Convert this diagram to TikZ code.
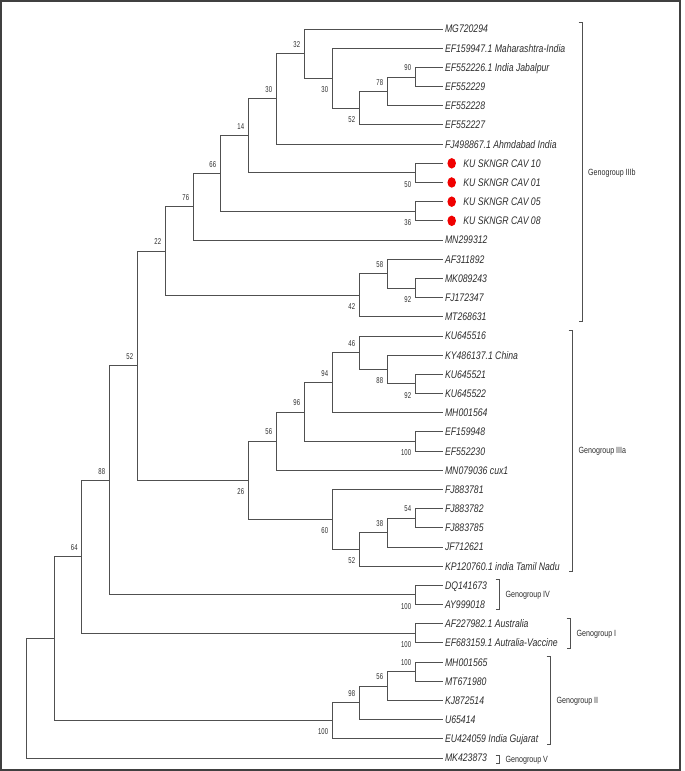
\documentclass[tikz,border=0pt]{standalone}
\usepackage{fontspec}
\usepackage{xcolor}
\usepackage{tikz}
\usetikzlibrary{positioning,shapes.geometric}

\newfontfamily\treefont[FakeStretch=0.79]{Liberation Sans}
\newfontfamily\bsfont[FakeStretch=0.7]{Liberation Sans}
\definecolor{treegray}{RGB}{80,80,80}
\definecolor{textgray}{RGB}{45,45,45}
\definecolor{cavred}{RGB}{240,0,0}

\begin{document}
\begin{tikzpicture}[x=1pt, y=-1pt,
	branch/.style={draw=treegray, line width=0.9pt},
	leaf/.style={anchor=west, inner xsep=2pt, inner ysep=0pt, outer sep=0pt, text height=10pt, text depth=2.1pt, text=textgray, font=\treefont\itshape\fontsize{11}{12}\selectfont},
	cavdot/.style={ellipse, fill=cavred, inner sep=0pt, minimum width=8.5pt, minimum height=10.5pt, outer sep=4.4pt},
	bsup/.style={anchor=south east, inner sep=0pt, text=textgray, font=\bsfont\fontsize{8.5}{9}\selectfont},
	bsdown/.style={bsup, anchor=north east},
	bracket/.style={draw=treegray, line width=0.9pt},
	group/.style={anchor=west, inner sep=0pt, text height=6.5pt, text depth=0pt, text=textgray, font=\treefont\fontsize{9}{10}\selectfont}]

	% cornice
	\useasboundingbox (0,0) rectangle (685,771);
	\draw[black!75, line width=2pt] (1,1) rectangle (680,769.5);

	% foglie
	\node[leaf] (mg720294) at (443,29.00) {MG720294};
	\node[leaf] (ef159947) at (443,48.18) {EF159947.1 Maharashtra-India};
	\node[leaf] (ef552226) at (443,67.37) {EF552226.1 India Jabalpur};
	\node[leaf] (ef552229) at (443,86.55) {EF552229};
	\node[leaf] (ef552228) at (443,105.74) {EF552228};
	\node[leaf] (ef552227) at (443,124.92) {EF552227};
	\node[leaf] (fj498867) at (443,144.11) {FJ498867.1 Ahmdabad India};
	\node[cavdot] (dot10) at (451.7,163.29) {};
	\node[leaf, right=1pt of dot10] (cav10) {KU SKNGR CAV 10};
	\node[cavdot] (dot01) at (451.7,182.47) {};
	\node[leaf, right=1pt of dot01] (cav01) {KU SKNGR CAV 01};
	\node[cavdot] (dot05) at (451.7,201.66) {};
	\node[leaf, right=1pt of dot05] (cav05) {KU SKNGR CAV 05};
	\node[cavdot] (dot08) at (451.7,220.84) {};
	\node[leaf, right=1pt of dot08] (cav08) {KU SKNGR CAV 08};
	\node[leaf] (mn299312) at (443,240.03) {MN299312};
	\node[leaf] (af311892) at (443,259.21) {AF311892};
	\node[leaf] (mk089243) at (443,278.39) {MK089243};
	\node[leaf] (fj172347) at (443,297.58) {FJ172347};
	\node[leaf] (mt268631) at (443,316.76) {MT268631};
	\node[leaf] (ku645516) at (443,335.95) {KU645516};
	\node[leaf] (ky486137) at (443,355.13) {KY486137.1 China};
	\node[leaf] (ku645521) at (443,374.32) {KU645521};
	\node[leaf] (ku645522) at (443,393.50) {KU645522};
	\node[leaf] (mh001564) at (443,412.68) {MH001564};
	\node[leaf] (ef159948) at (443,431.87) {EF159948};
	\node[leaf] (ef552230) at (443,451.05) {EF552230};
	\node[leaf] (mn079036) at (443,470.24) {MN079036 cux1};
	\node[leaf] (fj883781) at (443,489.42) {FJ883781};
	\node[leaf] (fj883782) at (443,508.61) {FJ883782};
	\node[leaf] (fj883785) at (443,527.79) {FJ883785};
	\node[leaf] (jf712621) at (443,546.97) {JF712621};
	\node[leaf] (kp120760) at (443,566.16) {KP120760.1 india Tamil Nadu};
	\node[leaf] (dq141673) at (443,585.34) {DQ141673};
	\node[leaf] (ay999018) at (443,604.53) {AY999018};
	\node[leaf] (af227982) at (443,623.71) {AF227982.1 Australia};
	\node[leaf] (ef683159) at (443,642.89) {EF683159.1 Autralia-Vaccine};
	\node[leaf] (mh001565) at (443,662.08) {MH001565};
	\node[leaf] (mt671980) at (443,681.26) {MT671980};
	\node[leaf] (kj872514) at (443,700.45) {KJ872514};
	\node[leaf] (u65414) at (443,719.63) {U65414};
	\node[leaf] (eu424059) at (443,738.82) {EU424059 India Gujarat};
	\node[leaf] (mk423873) at (443,758.00) {MK423873};

	% nodi interni
	\coordinate (root) at (26,698.41);
	\coordinate (c0) at (54,638.82);
	\coordinate (c64) at (81.5,556.80);
	\coordinate (c88) at (109,480.29);
	\coordinate (c52c) at (137,365.64);
	\coordinate (c22) at (165,250.99);
	\coordinate (c76) at (193,206.80);
	\coordinate (c66) at (220,173.56);
	\coordinate (c14) at (248,135.87);
	\coordinate (c30b) at (276,98.85);
	\coordinate (c32) at (304,53.58);
	\coordinate (c30a) at (332,78.16);
	\coordinate (c52a) at (359,108.14);
	\coordinate (c78) at (387,91.35);
	\coordinate (c90) at (415,76.96);
	\coordinate (c50) at (415,172.88);
	\coordinate (c36) at (415,211.25);
	\coordinate (c42) at (359,295.18);
	\coordinate (c58) at (387,273.60);
	\coordinate (c92a) at (415,287.99);
	\coordinate (c26) at (248,480.29);
	\coordinate (c56) at (276,441.17);
	\coordinate (c96) at (304,412.09);
	\coordinate (c94) at (332,382.71);
	\coordinate (c46) at (359,352.74);
	\coordinate (c88b) at (387,369.52);
	\coordinate (c92b) at (415,383.91);
	\coordinate (c100c) at (415,441.46);
	\coordinate (c60) at (332,519.40);
	\coordinate (c52b) at (359,549.38);
	\coordinate (c38) at (387,532.59);
	\coordinate (c54) at (415,518.20);
	\coordinate (c100d) at (415,594.94);
	\coordinate (c100e) at (415,633.30);
	\coordinate (c100b) at (332,720.84);
	\coordinate (c98) at (359,702.85);
	\coordinate (c56b) at (387,686.06);
	\coordinate (c100a) at (415,671.67);

	% rami
	\draw[branch] (root) |- (c0);
	\draw[branch] (root) |- (mk423873);
	\draw[branch] (c0) |- (c64);
	\draw[branch] (c0) |- (c100b);
	\draw[branch] (c64) |- (c88);
	\draw[branch] (c64) |- (c100e);
	\draw[branch] (c88) |- (c52c);
	\draw[branch] (c88) |- (c100d);
	\draw[branch] (c52c) |- (c22);
	\draw[branch] (c52c) |- (c26);
	\draw[branch] (c22) |- (c76);
	\draw[branch] (c22) |- (c42);
	\draw[branch] (c76) |- (c66);
	\draw[branch] (c76) |- (mn299312);
	\draw[branch] (c66) |- (c14);
	\draw[branch] (c66) |- (c36);
	\draw[branch] (c14) |- (c30b);
	\draw[branch] (c14) |- (c50);
	\draw[branch] (c30b) |- (c32);
	\draw[branch] (c30b) |- (fj498867);
	\draw[branch] (c32) |- (mg720294);
	\draw[branch] (c32) |- (c30a);
	\draw[branch] (c30a) |- (ef159947);
	\draw[branch] (c30a) |- (c52a);
	\draw[branch] (c52a) |- (c78);
	\draw[branch] (c52a) |- (ef552227);
	\draw[branch] (c78) |- (c90);
	\draw[branch] (c78) |- (ef552228);
	\draw[branch] (c90) |- (ef552226);
	\draw[branch] (c90) |- (ef552229);
	\draw[branch] (c50) |- (dot10);
	\draw[branch] (c50) |- (dot01);
	\draw[branch] (c36) |- (dot05);
	\draw[branch] (c36) |- (dot08);
	\draw[branch] (c42) |- (c58);
	\draw[branch] (c42) |- (mt268631);
	\draw[branch] (c58) |- (af311892);
	\draw[branch] (c58) |- (c92a);
	\draw[branch] (c92a) |- (mk089243);
	\draw[branch] (c92a) |- (fj172347);
	\draw[branch] (c26) |- (c56);
	\draw[branch] (c26) |- (c60);
	\draw[branch] (c56) |- (c96);
	\draw[branch] (c56) |- (mn079036);
	\draw[branch] (c96) |- (c94);
	\draw[branch] (c96) |- (c100c);
	\draw[branch] (c94) |- (c46);
	\draw[branch] (c94) |- (mh001564);
	\draw[branch] (c46) |- (ku645516);
	\draw[branch] (c46) |- (c88b);
	\draw[branch] (c88b) |- (ky486137);
	\draw[branch] (c88b) |- (c92b);
	\draw[branch] (c92b) |- (ku645521);
	\draw[branch] (c92b) |- (ku645522);
	\draw[branch] (c100c) |- (ef159948);
	\draw[branch] (c100c) |- (ef552230);
	\draw[branch] (c60) |- (fj883781);
	\draw[branch] (c60) |- (c52b);
	\draw[branch] (c52b) |- (c38);
	\draw[branch] (c52b) |- (kp120760);
	\draw[branch] (c38) |- (c54);
	\draw[branch] (c38) |- (jf712621);
	\draw[branch] (c54) |- (fj883782);
	\draw[branch] (c54) |- (fj883785);
	\draw[branch] (c100d) |- (dq141673);
	\draw[branch] (c100d) |- (ay999018);
	\draw[branch] (c100e) |- (af227982);
	\draw[branch] (c100e) |- (ef683159);
	\draw[branch] (c100b) |- (c98);
	\draw[branch] (c100b) |- (eu424059);
	\draw[branch] (c98) |- (c56b);
	\draw[branch] (c98) |- (u65414);
	\draw[branch] (c56b) |- (c100a);
	\draw[branch] (c56b) |- (kj872514);
	\draw[branch] (c100a) |- (mh001565);
	\draw[branch] (c100a) |- (mt671980);

	% bootstrap
	\node[bsup] (bs64) at ([shift={(-3.7,-6)}]c64) {64};
	\node[bsup] (bs88) at ([shift={(-3.7,-6)}]c88) {88};
	\node[bsup] (bs52c) at ([shift={(-3.7,-6)}]c52c) {52};
	\node[bsup] (bs22) at ([shift={(-3.7,-6)}]c22) {22};
	\node[bsup] (bs76) at ([shift={(-3.7,-6)}]c76) {76};
	\node[bsup] (bs66) at ([shift={(-3.7,-6)}]c66) {66};
	\node[bsup] (bs14) at ([shift={(-3.7,-6)}]c14) {14};
	\node[bsup] (bs30b) at ([shift={(-3.7,-6)}]c30b) {30};
	\node[bsup] (bs32) at ([shift={(-3.7,-6)}]c32) {32};
	\node[bsdown] (bs30a) at ([shift={(-3.7,8)}]c30a) {30};
	\node[bsdown] (bs52a) at ([shift={(-3.7,8)}]c52a) {52};
	\node[bsup] (bs78) at ([shift={(-3.7,-6)}]c78) {78};
	\node[bsup] (bs90) at ([shift={(-3.7,-6)}]c90) {90};
	\node[bsdown] (bs50) at ([shift={(-3.7,8)}]c50) {50};
	\node[bsdown] (bs36) at ([shift={(-3.7,8)}]c36) {36};
	\node[bsdown] (bs42) at ([shift={(-3.7,8)}]c42) {42};
	\node[bsup] (bs58) at ([shift={(-3.7,-6)}]c58) {58};
	\node[bsdown] (bs92a) at ([shift={(-3.7,8)}]c92a) {92};
	\node[bsdown] (bs26) at ([shift={(-3.7,8)}]c26) {26};
	\node[bsup] (bs56) at ([shift={(-3.7,-6)}]c56) {56};
	\node[bsup] (bs96) at ([shift={(-3.7,-6)}]c96) {96};
	\node[bsup] (bs94) at ([shift={(-3.7,-6)}]c94) {94};
	\node[bsup] (bs46) at ([shift={(-3.7,-6)}]c46) {46};
	\node[bsdown] (bs88b) at ([shift={(-3.7,8)}]c88b) {88};
	\node[bsdown] (bs92b) at ([shift={(-3.7,8)}]c92b) {92};
	\node[bsdown] (bs100c) at ([shift={(-3.7,8)}]c100c) {100};
	\node[bsdown] (bs60) at ([shift={(-3.7,8)}]c60) {60};
	\node[bsdown] (bs52b) at ([shift={(-3.7,8)}]c52b) {52};
	\node[bsup] (bs38) at ([shift={(-3.7,-6)}]c38) {38};
	\node[bsup] (bs54) at ([shift={(-3.7,-6)}]c54) {54};
	\node[bsdown] (bs100d) at ([shift={(-3.7,8)}]c100d) {100};
	\node[bsdown] (bs100e) at ([shift={(-3.7,8)}]c100e) {100};
	\node[bsdown] (bs100b) at ([shift={(-3.7,8)}]c100b) {100};
	\node[bsup] (bs98) at ([shift={(-3.7,-6)}]c98) {98};
	\node[bsup] (bs56b) at ([shift={(-3.7,-6)}]c56b) {56};
	\node[bsup] (bs100a) at ([shift={(-3.7,-6)}]c100a) {100};

	% genogruppi
	\draw[bracket] (578.5,22.7) -- (582,22.7) -- (582,321.5) -- (578.5,321.5);
	\node[group] (g3b) at (588,172) {Genogroup IIIb};
	\draw[bracket] (568.5,330) -- (572,330) -- (572,571) -- (568.5,571);
	\node[group] (g3a) at (578.5,450.5) {Genogroup IIIa};
	\draw[bracket] (495.5,579) -- (499,579) -- (499,609) -- (495.5,609);
	\node[group] (g4) at (505.5,594) {Genogroup IV};
	\draw[bracket] (566.5,618) -- (570,618) -- (570,648) -- (566.5,648);
	\node[group] (g1) at (576.5,633) {Genogroup I};
	\draw[bracket] (546.5,656) -- (550,656) -- (550,744) -- (546.5,744);
	\node[group] (g2) at (556.5,700) {Genogroup II};
	\draw[bracket] (495.5,755) -- (499,755) -- (499,763) -- (495.5,763);
	\node[group] (g5) at (505.5,759) {Genogroup V};
\end{tikzpicture}
\end{document}
